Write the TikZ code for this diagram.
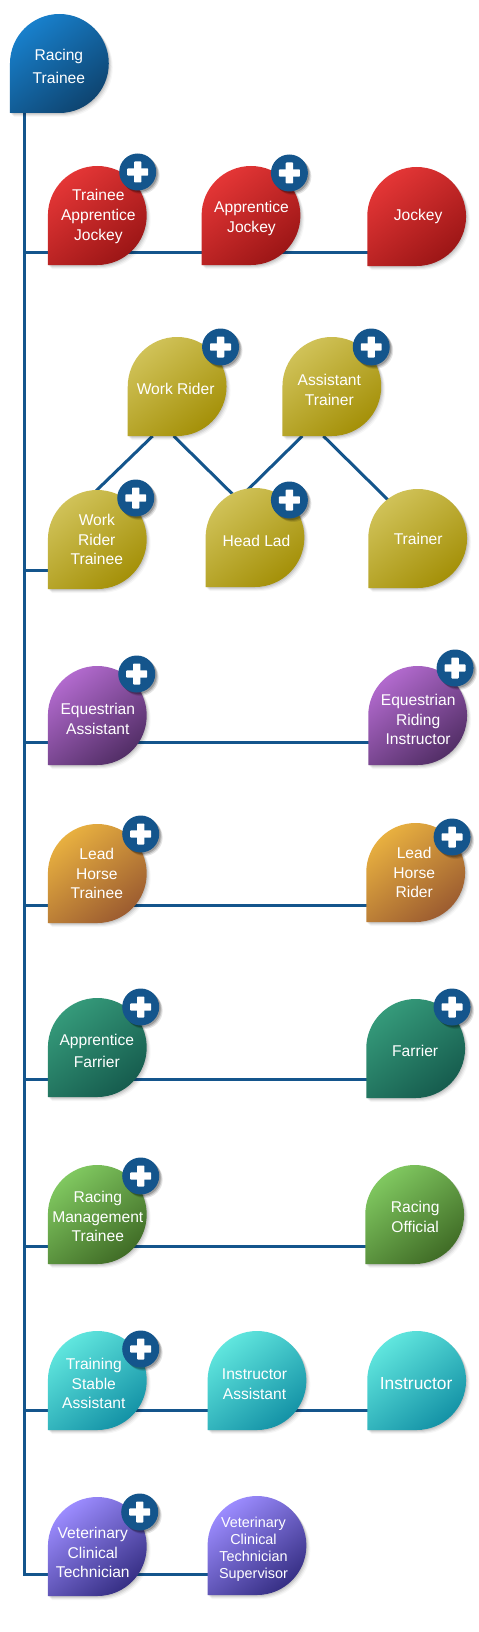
\documentclass[tikz,border=0pt]{standalone}
\usepackage{fontspec}
\setmainfont{Liberation Sans}
\usetikzlibrary{calc,backgrounds}
\definecolor{linkc}{HTML}{14558C}
\definecolor{skyA}{HTML}{1880CC}\definecolor{skyB}{HTML}{0E4470}
\definecolor{redA}{HTML}{E43636}\definecolor{redB}{HTML}{9C1616}
\definecolor{oliA}{HTML}{D0C258}\definecolor{oliB}{HTML}{A49008}
\definecolor{purA}{HTML}{B26ACE}\definecolor{purB}{HTML}{522E66}
\definecolor{oraA}{HTML}{E8B040}\definecolor{oraB}{HTML}{9C5C30}
\definecolor{teaA}{HTML}{359A7A}\definecolor{teaB}{HTML}{165C4E}
\definecolor{graA}{HTML}{80C860}\definecolor{graB}{HTML}{406C26}
\definecolor{cyaA}{HTML}{60E6DE}\definecolor{cyaB}{HTML}{1492A6}
\definecolor{vioA}{HTML}{9C8CFF}\definecolor{vioB}{HTML}{362F84}
\tikzset{
  x=0.998pt,y=-1pt,
  link/.style={draw=linkc,line width=3pt},
  droptext/.style={text=white,align=center,inner sep=0pt,yshift=-0.5pt},
  anchorbox/.style={minimum size=99pt,inner sep=0pt,outer sep=0pt,draw=none,fill=none},
  badgedisc/.style={circle,minimum size=37pt,inner sep=0pt,fill=linkc},
}
\newcommand{\dropath}{(0,99) -- (0,49.5) .. controls (0,22.16) and (22.16,0) .. (49.5,0) .. controls (76.84,0) and (99,22.16) .. (99,49.5) .. controls (99,76.84) and (76.84,99) .. (49.5,99) -- cycle}
% name, x, y, colour family, text x, text y, line spacing, font size, text
\newcommand{\careernode}[9]{%
  \begin{scope}[shift={(#2,#3)}]
    \foreach \o/\q in {4/.03,3/.05,2/.07,1/.08}{\fill[black,opacity=\q,shift={(\o,\o)}] \dropath;}
    \shade[top color=#4A,bottom color=#4B,shading angle=38] \dropath;
    \node[anchorbox] (#1) at (49.5,49.5) {};
  \end{scope}
  \node[droptext,font=\fontsize{#8}{#7}\selectfont] (#1-text) at (#5,#6) {#9};
}
\newcommand{\badge}[3]{%
  \foreach \o/\q in {3.5/.1,2.5/.15,1.5/.2}{\fill[black,opacity=\q] (#2+\o,#3+\o) circle[radius=18.5];}
  \node[badgedisc] (#1) at (#2,#3) {};
  \fill[white,rounded corners=.8pt] (#2-10.5,#3-3.7) rectangle (#2+10.5,#3+3.7);
  \fill[white,rounded corners=.8pt] (#2-3.7,#3-10.5) rectangle (#2+3.7,#3+10.5);
}
\begin{document}
\begin{tikzpicture}
\useasboundingbox (0,0) rectangle (479,1632);
\careernode{root}{10}{14}{sky}{59}{66}{23}{15.6}{Racing\\Trainee}
\careernode{taj}{48}{166}{red}{98.5}{216}{19.7}{15.6}{Trainee\\Apprentice\\Jockey}
\careernode{aj}{202}{166}{red}{252}{218}{20}{15.6}{Apprentice\\Jockey}
\careernode{jockey}{368}{167}{red}{419}{216}{20}{15.6}{Jockey}
\careernode{wr}{128}{337}{oli}{176}{388}{20}{15.6}{Work Rider}
\careernode{at}{283}{337}{oli}{330}{389.5}{19.5}{15.6}{Assistant\\Trainer}
\careernode{wrt}{48}{490}{oli}{97}{539}{19.7}{15.6}{Work\\Rider\\Trainee}
\careernode{hl}{206}{488}{oli}{257}{540}{20}{15.6}{Head Lad}
\careernode{trainer}{369}{489}{oli}{419}{538}{20}{15.6}{Trainer}
\careernode{ea}{48}{666}{pur}{98}{718}{20}{15.6}{Equestrian\\Assistant}
\careernode{eri}{369}{666}{pur}{419}{719}{19.7}{15.6}{Equestrian\\Riding\\Instructor}
\careernode{lht}{48}{824}{ora}{97}{873}{19.7}{15.6}{Lead\\Horse\\Trainee}
\careernode{lhr}{367}{823}{ora}{415}{872}{19.7}{15.6}{Lead\\Horse\\Rider}
\careernode{af}{48}{998}{tea}{97}{1050.5}{22.5}{15.6}{Apprentice\\Farrier}
\careernode{farrier}{367}{999}{tea}{416}{1050}{20}{15.6}{Farrier}
\careernode{rmt}{48}{1165}{gra}{98}{1216}{19.7}{15.6}{Racing\\Management\\Trainee}
\careernode{ro}{366}{1165}{gra}{416}{1216}{20}{15.6}{Racing\\Official}
\careernode{tsa}{48}{1331}{cya}{94}{1383}{19.7}{15.6}{Training\\Stable\\Assistant}
\careernode{ia}{208}{1331}{cya}{255}{1384}{20}{15.6}{Instructor\\Assistant}
\careernode{instr}{368}{1331}{cya}{417}{1383}{20}{17.4}{Instructor}
\careernode{vct}{48}{1497}{vio}{93}{1552}{19.5}{15.6}{Veterinary\\Clinical\\Technician}
\careernode{vcts}{208}{1496}{vio}{254}{1548.5}{17}{14.4}{Veterinary\\Clinical\\Technician\\Supervisor}
\badge{taj-plus}{138}{172}
\badge{aj-plus}{290}{173}
\badge{wr-plus}{221}{347}
\badge{at-plus}{372}{347}
\badge{wrt-plus}{136}{498}
\badge{hl-plus}{290}{500}
\badge{ea-plus}{137}{674}
\badge{eri-plus}{456}{668}
\badge{lht-plus}{141}{834}
\badge{lhr-plus}{453}{837}
\badge{af-plus}{141}{1007}
\badge{farrier-plus}{453}{1007}
\badge{rmt-plus}{141}{1176}
\badge{tsa-plus}{141}{1349}
\badge{vct-plus}{140}{1512}
\begin{pgfonlayer}{background}
  \fill[white] (0,0) rectangle (479,1632);
  \coordinate (t1) at (24.5,252);
  \coordinate (t2) at (24.5,570);
  \coordinate (t3) at (24.5,742);
  \coordinate (t4) at (24.5,905);
  \coordinate (t5) at (24.5,1079);
  \coordinate (t6) at (24.5,1246);
  \coordinate (t7) at (24.5,1410);
  \coordinate (t8) at (24.5,1574);
  \coordinate (t0) at (24.5,100);
  \draw[link,line join=miter] (t0) -- (t8) -- (t8 -| vct.center) -- (t8 -| vcts.center);
  \draw[link] (t1) -- (t1 -| taj.center) -- (t1 -| aj.center) -- (t1 -| jockey.center);
  \draw[link] (t2) -- (t2 -| wrt.center);
  \draw[link] (t3) -- (t3 -| ea.center) -- (t3 -| eri.center);
  \draw[link] (t4) -- (t4 -| lht.center) -- (t4 -| lhr.center);
  \draw[link] (t5) -- (t5 -| af.center) -- (t5 -| farrier.center);
  \draw[link] (t6) -- (t6 -| rmt.center) -- (t6 -| ro.center);
  \draw[link] (t7) -- (t7 -| tsa.center) -- (t7 -| ia.center) -- (t7 -| instr.center);
  \draw[link] ([xshift=25pt]wr.south west) -- ([xshift=45pt,yshift=-4pt]wrt.north west);
  \draw[link] ([xshift=46pt]wr.south west) -- ([xshift=31pt,yshift=-10pt]hl.north west);
  \draw[link] ([xshift=20pt]at.south west) -- ([xshift=40pt,yshift=-4pt]hl.north west);
  \draw[link] ([xshift=41pt]at.south west) -- ([xshift=23pt,yshift=-14pt]trainer.north west);
\end{pgfonlayer}
\end{tikzpicture}
\end{document}
